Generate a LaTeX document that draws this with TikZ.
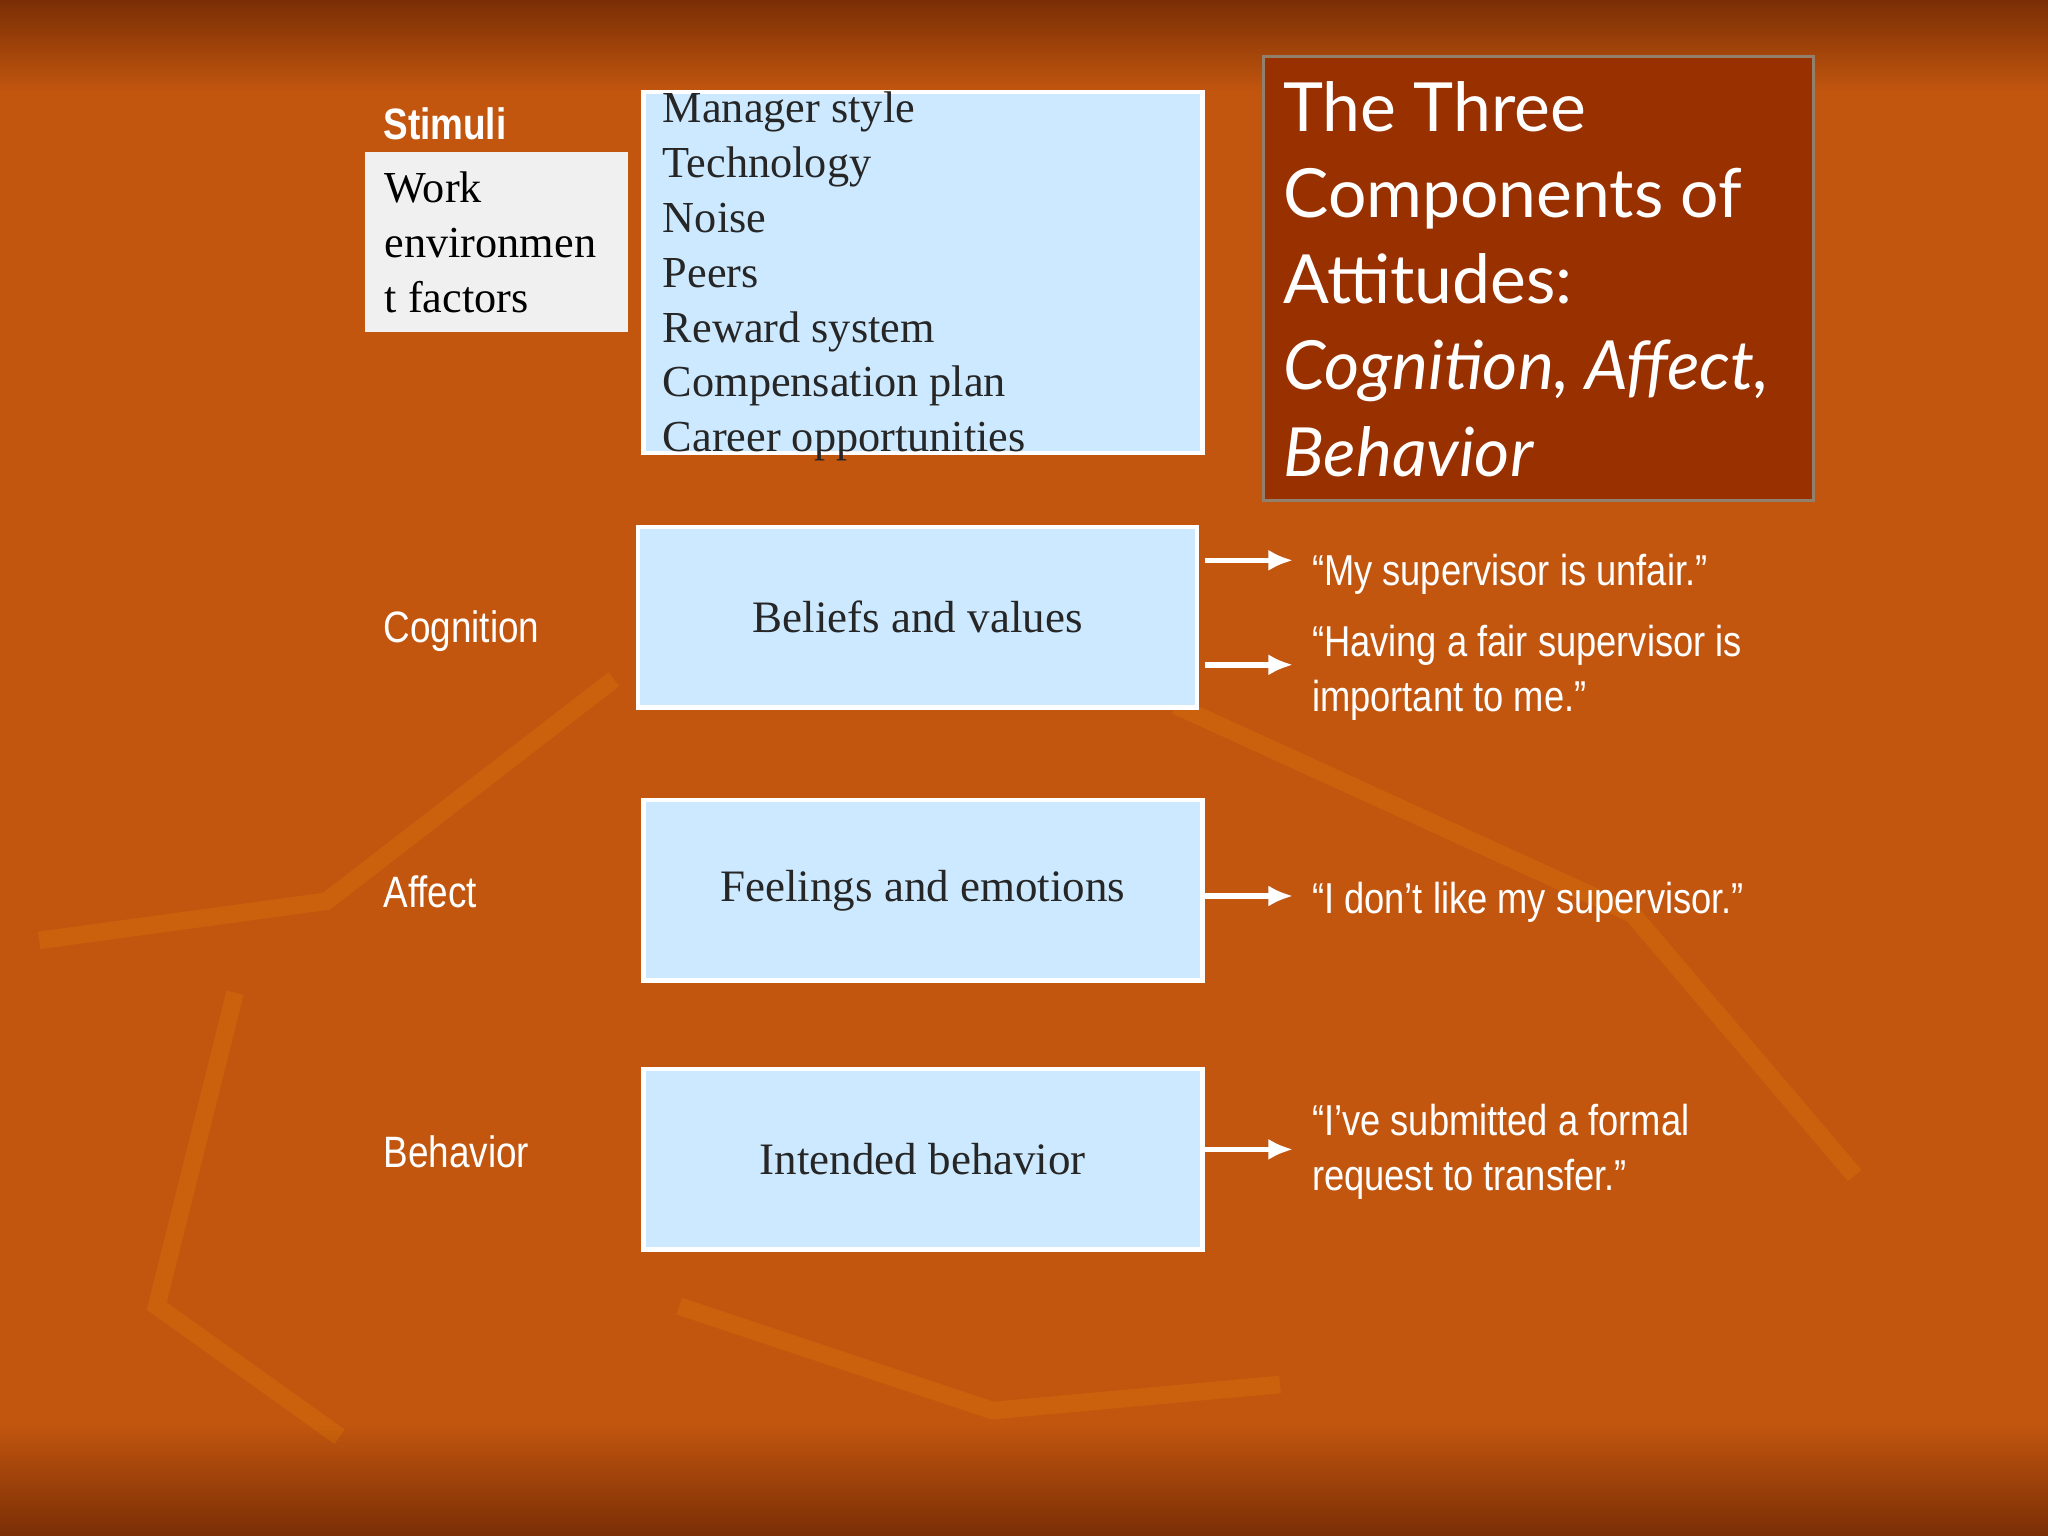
\documentclass[tikz,border=0pt]{standalone}
\usepackage{fontspec}
\setmainfont{Liberation Serif}
\newfontfamily\narrowsans[FakeStretch=0.84]{Liberation Sans}
\newfontfamily\titlefont{Lato}
\usetikzlibrary{calc,arrows.meta}
\definecolor{bgor}{HTML}{C2560F}
\definecolor{bgdark}{HTML}{7A2E05}
\definecolor{boxblue}{HTML}{CCE9FF}
\definecolor{titlebg}{HTML}{993000}
\tikzset{
  bluebox/.style={draw=white,line width=1.2pt,fill=boxblue,anchor=north west},
  lab/.style={text=white,font=\narrowsans\fontsize{12.5}{15}\selectfont,anchor=west,inner sep=0pt},
  quote/.style={text=white,font=\narrowsans\fontsize{12.3}{15.6}\selectfont,anchor=north west,align=left,inner sep=0pt},
  arr/.style={white,line width=1.6pt,-{Latex[length=7pt,width=6pt]}},
  boxtext/.style={font=\fontsize{12.8}{15}\selectfont,text=black!85}
}
\begin{document}
\begin{tikzpicture}[x=0.013061cm,y=-0.013061cm]
\useasboundingbox (0,0) rectangle (1568,1176);
\fill[bgor] (0,0) rectangle (1568,1176);
\shade[top color=bgdark,bottom color=bgor] (0,0) rectangle (1568,70);
\shade[top color=bgor,bottom color=bgdark] (0,1090) rectangle (1568,1176);
% faint leaf strokes
\begin{scope}[draw=orange!70!yellow,opacity=0.15,line width=5pt]
\draw (30,720) -- (250,690) -- (470,520);
\draw (180,760) -- (120,1000) -- (260,1100);
\draw (900,540) -- (1250,700) -- (1420,900);
\draw (520,1000) -- (760,1080) -- (980,1060);
\end{scope}
% Stimuli
\node[lab,font=\narrowsans\bfseries\fontsize{12.5}{15}\selectfont] (stim) at (293,95) {Stimuli};
\node[draw=none,fill=gray!12,anchor=north west,minimum width=201*0.013061cm,minimum height=138*0.013061cm,inner sep=0pt] (wef) at (279,116) {};
\node[anchor=north west,align=left,inner sep=0pt,font=\fontsize{12.6}{15.6}\selectfont] at (294,131) {Work\\environmen\\t factors};
% list box
\node[bluebox,minimum width=428*0.013061cm,minimum height=276*0.013061cm] (list) at (491,69) {};
\node[anchor=north west,align=left,inner sep=0pt,font=\fontsize{12.6}{15.6}\selectfont,text=black!85] at (507,70)
 {Manager style\\Technology\\Noise\\Peers\\Reward system\\Compensation plan\\Career opportunities};
% title
\node[draw=gray!70!brown,line width=1pt,fill=titlebg,anchor=north west,minimum width=421*0.013061cm,minimum height=340*0.013061cm] (title) at (966,42) {};
\node[anchor=north west,align=left,inner sep=0pt,text=white,font=\titlefont\fontsize{19.3}{24.5}\selectfont] at (982,62)
 {The Three\\Components of\\Attitudes:\\\itshape Cognition, Affect,\\\itshape Behavior};
% component boxes
\node[bluebox,minimum width=428*0.013061cm,minimum height=138*0.013061cm] (b1) at (487,402) {};
\node[boxtext] at (b1.center) {Beliefs and values};
\node[bluebox,minimum width=428*0.013061cm,minimum height=138*0.013061cm] (b2) at (491,611) {};
\node[boxtext] at (b2.center) {Feelings and emotions};
\node[bluebox,minimum width=428*0.013061cm,minimum height=138*0.013061cm] (b3) at (491,817) {};
\node[boxtext] at (b3.center) {Intended behavior};
% left labels
\node[lab] (cog) at (293,483) {Cognition};
\node[lab] (aff) at (293,683) {Affect};
\node[lab] (beh) at (293,882) {Behavior};
% quotes
\node[quote] (q1) at (1004,424) {“My supervisor is unfair.”};
\node[quote] (q2) at (1004,478) {“Having a fair supervisor is\\important to me.”};
\node[quote] (q3) at (1004,675) {“I don’t like my supervisor.”};
\node[quote] (q4) at (1004,845) {“I’ve submitted a formal\\request to transfer.”};
% arrows
\coordinate (a1) at ($(b1.north east)+(4,27)$);
\coordinate (a2) at ($(b1.north east)+(4,107)$);
\draw[arr] (a1) -- ($(a1 -| q1.west)+(-14,0)$);
\draw[arr] (a2) -- ($(a2 -| q2.west)+(-14,0)$);
\draw[arr] ($(b2.north east)+(0,75)$) -- ($(b2.north east -| q3.west)+(-14,75)$);
\draw[arr] ($(b3.north east)+(0,63)$) -- ($(b3.north east -| q4.west)+(-14,63)$);
\end{tikzpicture}
\end{document}
